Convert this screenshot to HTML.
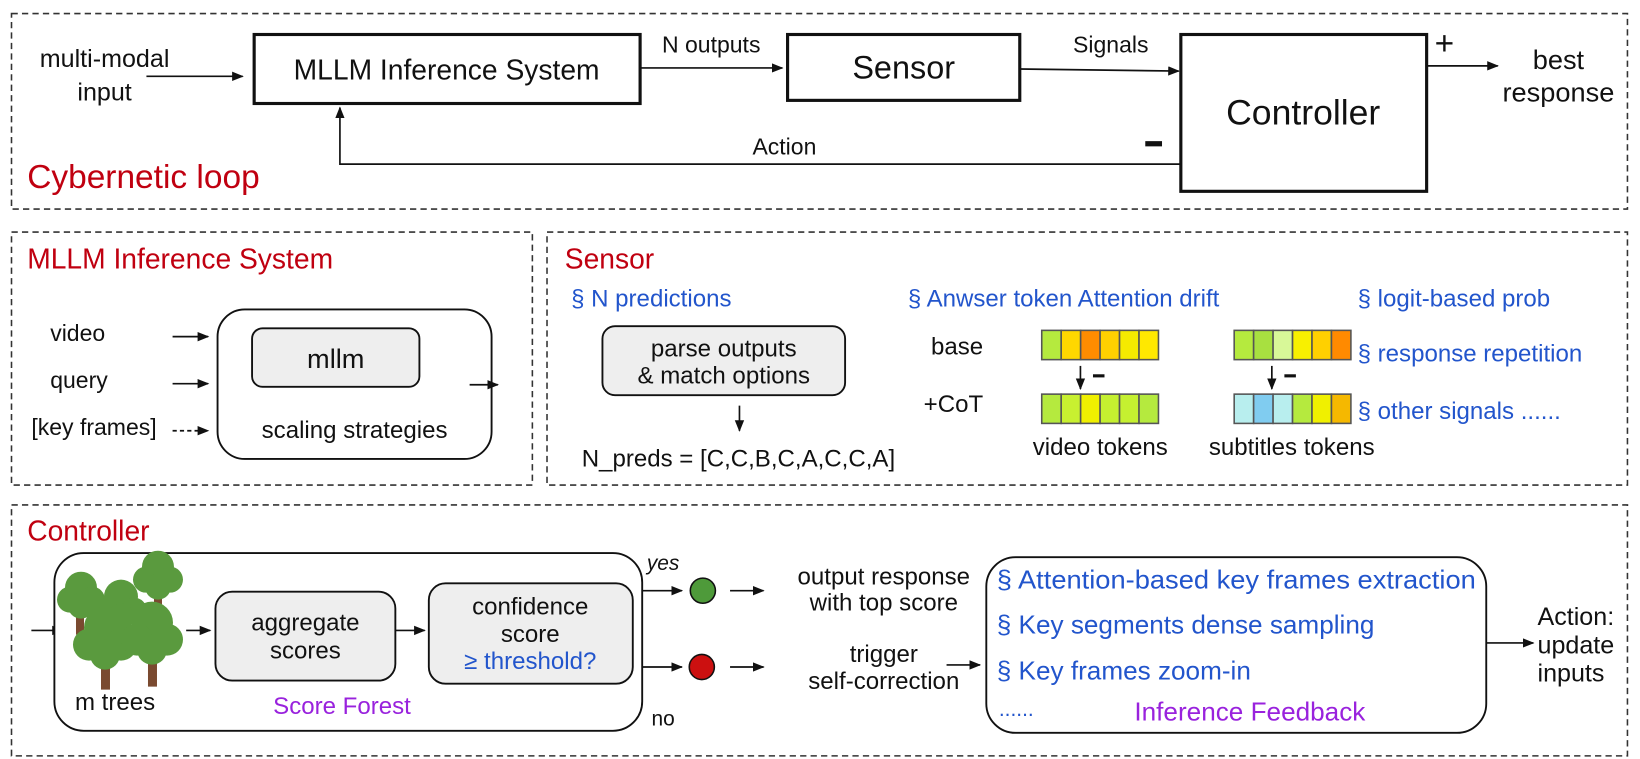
<!DOCTYPE html>
<html><head><meta charset="utf-8"><style>
html,body{margin:0;padding:0;background:#fff;}
svg{display:block;}
text{font-family:"Liberation Sans",sans-serif;fill:#111;}
.r{fill:#c00010;}
.b{fill:#2255cc;}
.p{fill:#9922dd;}
.d{fill:none;stroke:#333;stroke-width:1.5;stroke-dasharray:6 4;}
.k{fill:none;stroke:#111;stroke-width:1.6;}
.bx{fill:#fff;stroke:#111;stroke-width:3;}
.g{fill:#eeeeee;stroke:#111;stroke-width:1.8;}
.c{stroke:#555;stroke-width:1.5;}
</style></head><body>
<svg width="1640" height="759" viewBox="0 0 1568 726" preserveAspectRatio="none" xmlns="http://www.w3.org/2000/svg">
<defs><marker id="a" viewBox="0 0 10 10" refX="9" refY="5" markerWidth="7" markerHeight="7" orient="auto"><path d="M0,1 L10,5 L0,9 z" fill="#111"/></marker></defs>
<!-- panels -->
<rect class="d" x="11" y="13" width="1545" height="187"/>
<rect class="d" x="11" y="222" width="498" height="242"/>
<rect class="d" x="523" y="222" width="1033" height="242"/>
<rect class="d" x="11" y="483" width="1545" height="240"/>
<!-- top -->
<text x="100" y="64" font-size="24" text-anchor="middle">multi-modal</text>
<text x="100" y="96" font-size="24" text-anchor="middle">input</text>
<line class="k" x1="140" y1="73" x2="232" y2="73" marker-end="url(#a)"/>
<rect class="bx" x="243" y="33" width="369" height="66"/>
<text x="427" y="76" font-size="27" text-anchor="middle">MLLM Inference System</text>
<text x="680" y="50" font-size="22" text-anchor="middle">N outputs</text>
<line class="k" x1="612" y1="65" x2="748" y2="65" marker-end="url(#a)"/>
<rect class="bx" x="753" y="33" width="222" height="63"/>
<text x="864" y="75" font-size="31" text-anchor="middle">Sensor</text>
<text x="1062" y="50" font-size="22" text-anchor="middle">Signals</text>
<line class="k" x1="975" y1="66" x2="1127" y2="68" marker-end="url(#a)"/>
<rect class="bx" x="1129" y="33" width="235" height="150"/>
<text x="1246" y="119" font-size="34" text-anchor="middle">Controller</text>
<text x="1381" y="52" font-size="32" text-anchor="middle">+</text>
<line class="k" x1="1364" y1="63" x2="1432" y2="63" marker-end="url(#a)"/>
<text x="1490" y="66" font-size="26" text-anchor="middle">best</text>
<text x="1490" y="97" font-size="26" text-anchor="middle">response</text>
<rect x="1095" y="135" width="16" height="5" fill="#111"/>
<polyline class="k" points="1129,157 325,157 325,103" marker-end="url(#a)"/>
<text x="750" y="148" font-size="22" text-anchor="middle">Action</text>
<text x="26" y="180" font-size="32" class="r">Cybernetic loop</text>
<!-- middle left -->
<text x="26" y="257" font-size="27" class="r">MLLM Inference System</text>
<text x="48" y="326" font-size="22">video</text>
<text x="48" y="371" font-size="22">query</text>
<text x="30" y="416" font-size="22">[key frames]</text>
<line class="k" x1="165" y1="322" x2="199" y2="322" marker-end="url(#a)"/>
<line class="k" x1="165" y1="367" x2="199" y2="367" marker-end="url(#a)"/>
<line class="k" x1="165" y1="412" x2="199" y2="412" stroke-dasharray="4 3" marker-end="url(#a)"/>
<rect x="208" y="296" width="262" height="143" rx="26" fill="#fff" stroke="#111" stroke-width="1.8"/>
<rect class="g" x="241" y="314" width="160" height="56" rx="10"/>
<text x="321" y="352" font-size="26" text-anchor="middle">mllm</text>
<text x="339" y="419" font-size="23" text-anchor="middle">scaling strategies</text>
<line class="k" x1="449" y1="368" x2="476" y2="368" marker-end="url(#a)"/>
<!-- sensor -->
<text x="540" y="257" font-size="27" class="r">Sensor</text>
<text x="546" y="293" font-size="23" class="b">§ N predictions</text>
<rect class="g" x="576" y="312" width="232" height="66" rx="12"/>
<text x="692" y="341" font-size="23" text-anchor="middle">parse outputs</text>
<text x="692" y="367" font-size="23" text-anchor="middle">&amp; match options</text>
<line class="k" x1="707" y1="388" x2="707" y2="412" marker-end="url(#a)"/>
<text x="706" y="446" font-size="23" text-anchor="middle">N_preds = [C,C,B,C,A,C,C,A]</text>
<text x="868" y="293" font-size="23" class="b">§ Anwser token Attention drift</text>
<text x="940" y="339" font-size="23" text-anchor="end">base</text>
<text x="940" y="394" font-size="23" text-anchor="end">+CoT</text>
<g class="c">
<rect x="996" y="316" width="18.6" height="28" fill="#b5ea3e"/><rect x="1014.6" y="316" width="18.6" height="28" fill="#ffd700"/><rect x="1033.2" y="316" width="18.6" height="28" fill="#ff8c00"/><rect x="1051.8" y="316" width="18.6" height="28" fill="#ffd000"/><rect x="1070.4" y="316" width="18.6" height="28" fill="#f5ea00"/><rect x="1089" y="316" width="18.6" height="28" fill="#ffe800"/>
<rect x="996" y="377" width="18.6" height="28" fill="#b5ea3e"/><rect x="1014.6" y="377" width="18.6" height="28" fill="#c8f030"/><rect x="1033.2" y="377" width="18.6" height="28" fill="#f0f000"/><rect x="1051.8" y="377" width="18.6" height="28" fill="#c5f030"/><rect x="1070.4" y="377" width="18.6" height="28" fill="#c5f030"/><rect x="1089" y="377" width="18.6" height="28" fill="#b5ea3e"/>
<rect x="1180" y="316" width="18.6" height="28" fill="#b5ea3e"/><rect x="1198.6" y="316" width="18.6" height="28" fill="#a8e040"/><rect x="1217.2" y="316" width="18.6" height="28" fill="#d8f898"/><rect x="1235.8" y="316" width="18.6" height="28" fill="#f8f000"/><rect x="1254.4" y="316" width="18.6" height="28" fill="#ffd000"/><rect x="1273" y="316" width="18.6" height="28" fill="#ff8a00"/>
<rect x="1180" y="377" width="18.6" height="28" fill="#b8eeee"/><rect x="1198.6" y="377" width="18.6" height="28" fill="#80ccf0"/><rect x="1217.2" y="377" width="18.6" height="28" fill="#b8eeee"/><rect x="1235.8" y="377" width="18.6" height="28" fill="#b5ea3e"/><rect x="1254.4" y="377" width="18.6" height="28" fill="#f0f000"/><rect x="1273" y="377" width="18.6" height="28" fill="#f5b800"/>
</g>
<line class="k" x1="1033" y1="350" x2="1033" y2="372" marker-end="url(#a)"/>
<line class="k" x1="1216" y1="350" x2="1216" y2="372" marker-end="url(#a)"/>
<rect x="1045" y="358" width="11" height="3" fill="#111"/>
<rect x="1228" y="358" width="11" height="3" fill="#111"/>
<text x="1052" y="435" font-size="23" text-anchor="middle">video tokens</text>
<text x="1235" y="435" font-size="23" text-anchor="middle">subtitles tokens</text>
<text x="1298" y="293" font-size="23" class="b">§ logit-based prob</text>
<text x="1298" y="346" font-size="23" class="b">§ response repetition</text>
<text x="1298" y="401" font-size="23" class="b">§ other signals ......</text>
<!-- controller -->
<text x="26" y="517" font-size="27" class="r">Controller</text>
<line class="k" x1="30" y1="603" x2="60" y2="603" marker-end="url(#a)"/>
<rect x="52" y="529" width="562" height="170" rx="28" fill="#fff" stroke="#111" stroke-width="1.8"/>
<g transform="scale(0.956)">
<g fill="#7a4a30"><rect x="76" y="605" width="8" height="30"/><rect x="116" y="615" width="8" height="38"/><rect x="154" y="590" width="8" height="42"/><rect x="101" y="640" width="9" height="50"/><rect x="148" y="635" width="9" height="52"/></g>
<g fill="#5a9a3e">
<circle cx="81" cy="588" r="16"/><circle cx="70" cy="600" r="13"/><circle cx="92" cy="600" r="13"/><circle cx="81" cy="606" r="13"/>
<circle cx="121" cy="597" r="17"/><circle cx="108" cy="611" r="13"/><circle cx="134" cy="611" r="13"/><circle cx="121" cy="617" r="13"/>
<circle cx="158" cy="567" r="16"/><circle cx="146" cy="580" r="13"/><circle cx="170" cy="580" r="13"/><circle cx="158" cy="587" r="13"/>
<circle cx="105" cy="628" r="21"/><circle cx="89" cy="645" r="16"/><circle cx="121" cy="645" r="16"/><circle cx="105" cy="655" r="15"/>
<circle cx="152" cy="623" r="21"/><circle cx="137" cy="640" r="16"/><circle cx="167" cy="640" r="16"/><circle cx="152" cy="650" r="15"/>
</g></g>
<text x="110" y="679" font-size="23" text-anchor="middle">m  trees</text>
<line class="k" x1="178" y1="603" x2="201" y2="603" marker-end="url(#a)"/>
<rect class="g" x="206" y="566" width="172" height="85" rx="16"/>
<text x="292" y="603" font-size="23" text-anchor="middle">aggregate</text>
<text x="292" y="630" font-size="23" text-anchor="middle">scores</text>
<line class="k" x1="378" y1="603" x2="406" y2="603" marker-end="url(#a)"/>
<rect class="g" x="410" y="558" width="195" height="96" rx="16"/>
<text x="507" y="588" font-size="23" text-anchor="middle">confidence</text>
<text x="507" y="614" font-size="23" text-anchor="middle">score</text>
<text x="507" y="640" font-size="23" text-anchor="middle" class="b">≥ threshold?</text>
<text x="327" y="683" font-size="23" text-anchor="middle" class="p">Score Forest</text>
<text x="634" y="545" font-size="20" font-style="italic" text-anchor="middle">yes</text>
<text x="634" y="694" font-size="20" text-anchor="middle">no</text>
<line class="k" x1="614" y1="565" x2="652" y2="565" marker-end="url(#a)"/>
<line class="k" x1="614" y1="638" x2="652" y2="638" marker-end="url(#a)"/>
<circle cx="672" cy="565" r="12" fill="#4e9a3a" stroke="#111" stroke-width="1.5"/>
<circle cx="671" cy="638" r="12" fill="#cc1010" stroke="#111" stroke-width="1.5"/>
<line class="k" x1="698" y1="565" x2="730" y2="565" marker-end="url(#a)"/>
<line class="k" x1="698" y1="638" x2="730" y2="638" marker-end="url(#a)"/>
<text x="845" y="559" font-size="23" text-anchor="middle">output response</text>
<text x="845" y="584" font-size="23" text-anchor="middle">with top score</text>
<text x="845" y="633" font-size="23" text-anchor="middle">trigger</text>
<text x="845" y="659" font-size="23" text-anchor="middle">self-correction</text>
<line class="k" x1="905" y1="636" x2="937" y2="636" marker-end="url(#a)"/>
<rect x="943" y="533" width="478" height="168" rx="28" fill="#fff" stroke="#111" stroke-width="1.8"/>
<text x="953" y="563" font-size="25" class="b" textLength="458" lengthAdjust="spacingAndGlyphs">§ Attention-based key frames extraction</text>
<text x="953" y="606" font-size="25" class="b">§ Key segments dense sampling</text>
<text x="953" y="650" font-size="25" class="b">§ Key frames zoom-in</text>
<text x="955" y="685" font-size="20" class="b">......</text>
<text x="1195" y="689" font-size="25" text-anchor="middle" class="p">Inference Feedback</text>
<line class="k" x1="1421" y1="615" x2="1466" y2="615" marker-end="url(#a)"/>
<text x="1470" y="598" font-size="24">Action:</text>
<text x="1470" y="625" font-size="24">update</text>
<text x="1470" y="652" font-size="24">inputs</text>
</svg>
</body></html>
